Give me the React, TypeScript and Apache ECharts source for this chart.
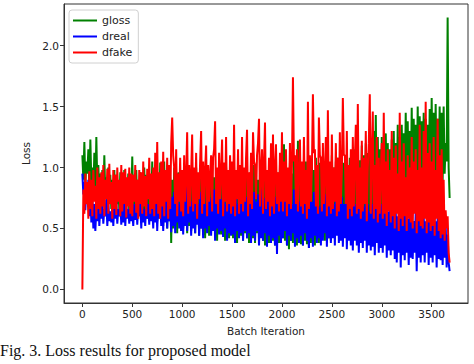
import React, { useEffect, useRef } from "react";
import * as echarts from "echarts";

// Batch iteration step between stored samples
const STEP = 10;

// Generator loss (every 10 iterations, 0..3680)
const gloss = [
  1.10, 0.90, 1.21, 0.85, 1.05, 0.95, 1.15, 0.82, 1.23, 0.88,
  1.00, 0.80, 1.12, 0.78, 1.25, 0.85, 1.02, 0.75, 0.95, 0.72,
  0.98, 0.70, 1.10, 0.76, 0.92, 0.68, 1.00, 0.74, 0.94, 0.66,
  0.90, 0.72, 0.98, 0.64, 0.94, 0.70, 0.88, 0.66, 0.96, 0.62,
  0.92, 0.68, 0.98, 0.64, 0.90, 0.72, 0.95, 0.62, 0.88, 0.70,
  1.09, 0.66, 0.94, 0.60, 0.98, 0.68, 0.90, 0.62, 0.96, 0.65,
  0.92, 0.60, 1.00, 0.66, 0.94, 0.58, 0.98, 0.64, 0.90, 0.60,
  1.05, 0.58, 0.96, 0.64, 1.02, 0.56, 0.94, 0.60, 1.04, 0.55,
  0.98, 0.52, 1.05, 0.60, 0.94, 0.50, 1.00, 0.56, 0.92, 0.38,
  0.90, 0.50, 1.00, 0.56, 0.92, 0.46, 0.96, 0.54, 0.88, 0.48,
  0.95, 0.50, 1.02, 0.55, 0.92, 0.46, 0.98, 0.52, 0.90, 0.48,
  0.98, 0.52, 0.90, 0.46, 1.00, 0.55, 0.94, 0.44, 0.96, 0.50,
  0.92, 0.45, 0.98, 0.42, 0.88, 0.50, 0.95, 0.44, 0.90, 0.48,
  1.00, 0.50, 0.92, 0.44, 0.98, 0.40, 0.94, 0.48, 0.90, 0.45,
  0.96, 0.46, 0.90, 0.40, 1.00, 0.50, 0.94, 0.42, 0.92, 0.48,
  0.88, 0.42, 1.00, 0.46, 0.92, 0.38, 0.96, 0.50, 0.90, 0.44,
  0.95, 0.40, 0.90, 0.46, 0.98, 0.42, 0.92, 0.38, 0.96, 0.44,
  0.92, 0.42, 1.02, 0.38, 0.94, 0.46, 0.90, 0.40, 0.98, 0.44,
  0.94, 0.40, 1.00, 0.36, 0.92, 0.44, 0.96, 0.38, 0.90, 0.42,
  1.05, 0.40, 0.94, 0.36, 1.00, 0.42, 0.96, 0.38, 1.02, 0.40,
  0.98, 0.42, 1.19, 0.40, 1.02, 0.36, 0.96, 0.33, 1.04, 0.40,
  0.95, 0.38, 1.10, 0.42, 1.00, 0.36, 1.22, 0.40, 0.98, 0.37,
  1.00, 0.36, 0.94, 0.40, 1.05, 0.37, 0.98, 0.34, 1.02, 0.38,
  1.05, 0.40, 0.98, 0.36, 1.08, 0.42, 1.00, 0.38, 1.04, 0.40,
  1.00, 0.44, 1.05, 0.40, 0.98, 0.46, 1.06, 0.42, 1.02, 0.40,
  1.10, 0.48, 1.00, 0.44, 1.05, 0.50, 1.08, 0.46, 1.02, 0.48,
  1.12, 0.50, 1.04, 0.55, 1.10, 0.48, 1.00, 0.52, 1.08, 0.55,
  1.08, 0.52, 1.15, 0.56, 1.05, 0.50, 1.12, 0.58, 1.06, 0.55,
  1.18, 0.58, 1.10, 0.55, 1.20, 0.60, 1.12, 0.56, 1.15, 0.62,
  1.20, 0.62, 1.30, 0.58, 1.43, 0.64, 1.25, 0.60, 1.15, 0.66,
  1.25, 0.65, 1.18, 0.70, 1.28, 0.62, 1.20, 0.68, 1.15, 0.72,
  1.23, 0.70, 1.30, 0.66, 1.20, 0.74, 1.35, 0.68, 1.25, 0.72,
  1.35, 0.75, 1.28, 0.80, 1.45, 0.72, 1.38, 0.78, 1.30, 0.82,
  1.49, 0.80, 1.40, 0.85, 1.35, 0.78, 1.50, 0.82, 1.42, 0.86,
  1.38, 0.82, 1.45, 0.78, 1.40, 0.88, 1.35, 0.80, 1.48, 0.85,
  1.57, 0.88, 1.45, 0.82, 1.52, 0.90, 1.40, 0.86, 1.50, 0.84,
  1.45, 0.88, 1.50, 0.95, 1.20, 1.05, 2.23, 1.00, 0.75,
];

// Discriminator loss on real samples
const dreal = [
  0.95, 0.78, 0.88, 0.65, 0.85, 0.72, 0.90, 0.60, 0.80, 0.55,
  0.75, 0.50, 0.70, 0.48, 0.66, 0.56, 0.74, 0.52, 0.68, 0.58,
  0.72, 0.54, 0.66, 0.60, 0.74, 0.52, 0.70, 0.56, 0.64, 0.55,
  0.70, 0.52, 0.68, 0.58, 0.73, 0.54, 0.66, 0.60, 0.72, 0.53,
  0.68, 0.55, 0.74, 0.52, 0.70, 0.58, 0.66, 0.54, 0.72, 0.56,
  0.64, 0.52, 0.70, 0.57, 0.75, 0.53, 0.68, 0.60, 0.72, 0.50,
  0.70, 0.55, 0.66, 0.52, 0.74, 0.58, 0.70, 0.53, 0.76, 0.56,
  0.68, 0.50, 0.74, 0.55, 0.80, 0.48, 0.70, 0.58, 0.76, 0.52,
  0.72, 0.48, 0.78, 0.55, 0.82, 0.50, 0.74, 0.56, 0.70, 0.47,
  0.76, 0.52, 0.80, 0.46, 0.72, 0.55, 0.78, 0.50, 0.70, 0.48,
  0.80, 0.45, 0.74, 0.52, 0.85, 0.48, 0.70, 0.55, 0.78, 0.44,
  0.72, 0.50, 0.82, 0.46, 0.76, 0.53, 0.70, 0.44, 0.80, 0.50,
  0.74, 0.42, 0.78, 0.50, 0.70, 0.46, 0.80, 0.52, 0.75, 0.44,
  0.70, 0.48, 0.82, 0.40, 0.76, 0.50, 0.72, 0.45, 0.80, 0.48,
  0.74, 0.43, 0.84, 0.50, 0.70, 0.40, 0.78, 0.46, 0.72, 0.44,
  0.80, 0.45, 0.76, 0.38, 0.82, 0.48, 0.70, 0.42, 0.78, 0.46,
  0.72, 0.40, 0.84, 0.48, 0.76, 0.42, 0.70, 0.46, 0.80, 0.38,
  0.74, 0.44, 0.80, 0.40, 0.72, 0.48, 0.78, 0.36, 0.70, 0.42,
  0.82, 0.40, 0.75, 0.46, 0.70, 0.35, 0.80, 0.44, 0.74, 0.38,
  0.78, 0.42, 0.72, 0.36, 0.76, 0.29, 0.70, 0.44, 0.78, 0.38,
  0.80, 0.42, 0.74, 0.48, 0.85, 0.36, 0.72, 0.44, 0.78, 0.40,
  0.70, 0.46, 0.82, 0.35, 0.76, 0.42, 0.80, 0.38, 0.72, 0.44,
  0.78, 0.36, 0.70, 0.46, 0.84, 0.40, 0.74, 0.34, 0.76, 0.42,
  0.72, 0.35, 0.80, 0.44, 0.70, 0.38, 0.75, 0.42, 0.68, 0.36,
  0.82, 0.40, 0.72, 0.46, 0.78, 0.35, 0.70, 0.42, 0.80, 0.38,
  0.74, 0.42, 0.70, 0.36, 0.78, 0.44, 0.80, 0.38, 0.72, 0.40,
  0.76, 0.35, 0.70, 0.42, 0.75, 0.33, 0.68, 0.40, 0.72, 0.36,
  0.66, 0.32, 0.74, 0.40, 0.70, 0.36, 0.72, 0.30, 0.66, 0.38,
  0.72, 0.34, 0.68, 0.40, 0.76, 0.30, 0.70, 0.36, 0.64, 0.32,
  0.70, 0.35, 0.74, 0.28, 0.66, 0.38, 0.72, 0.30, 0.68, 0.34,
  0.70, 0.30, 0.66, 0.36, 0.72, 0.26, 0.64, 0.32, 0.68, 0.28,
  0.62, 0.32, 0.70, 0.25, 0.65, 0.22, 0.60, 0.30, 0.66, 0.18,
  0.60, 0.28, 0.66, 0.24, 0.62, 0.30, 0.58, 0.20, 0.64, 0.26,
  0.60, 0.25, 0.56, 0.30, 0.64, 0.15, 0.58, 0.26, 0.62, 0.22,
  0.58, 0.28, 0.62, 0.22, 0.56, 0.30, 0.60, 0.20, 0.58, 0.26,
  0.54, 0.22, 0.62, 0.28, 0.56, 0.18, 0.60, 0.25, 0.52, 0.24,
  0.58, 0.20, 0.52, 0.26, 0.55, 0.18, 0.45, 0.22, 0.15,
];

// Discriminator loss on fake samples
const dfake = [
  0.00, 0.82, 0.62, 0.95, 0.70, 0.88, 0.58, 0.97, 0.66, 0.90,
  0.60, 0.98, 0.72, 0.85, 0.58, 1.00, 0.66, 0.92, 0.62, 0.96,
  0.68, 1.02, 0.60, 0.90, 0.74, 0.99, 0.62, 1.03, 0.70, 0.88,
  0.58, 0.98, 0.66, 0.94, 0.61, 1.00, 0.72, 0.90, 0.60, 1.02,
  0.64, 0.96, 0.70, 0.99, 0.59, 0.92, 0.68, 1.00, 0.62, 0.95,
  0.60, 0.94, 0.72, 1.02, 0.63, 0.90, 0.58, 0.98, 0.70, 0.96,
  0.62, 1.05, 0.68, 0.93, 0.60, 0.99, 0.74, 1.08, 0.62, 0.95,
  0.66, 1.00, 0.60, 1.12, 0.70, 1.21, 0.62, 0.96, 0.58, 1.05,
  0.68, 1.13, 0.60, 0.98, 0.72, 1.08, 0.58, 1.02, 0.66, 1.20,
  1.41, 1.10, 1.00, 0.70, 1.15, 0.60, 0.95, 0.72, 1.08, 0.64,
  0.98, 0.60, 1.10, 0.72, 0.92, 1.29, 0.62, 1.02, 0.68, 0.95,
  1.27, 0.64, 1.00, 0.70, 1.12, 0.58, 0.96, 0.74, 1.05, 1.30,
  0.62, 1.05, 0.70, 0.98, 1.18, 0.60, 1.02, 0.72, 0.94, 1.10,
  0.64, 1.08, 1.15, 1.38, 0.70, 1.00, 0.62, 1.12, 0.74, 0.96,
  1.23, 0.60, 1.04, 0.72, 1.25, 0.64, 0.98, 0.70, 1.10, 0.62,
  1.05, 0.68, 1.35, 0.60, 0.98, 0.74, 1.15, 0.62, 1.02, 0.70,
  1.25, 0.64, 1.00, 0.72, 1.08, 1.31, 0.60, 0.96, 0.70, 1.12,
  0.66, 1.29, 1.05, 1.02, 0.74, 1.10, 1.20, 1.40, 0.68, 0.98,
  1.15, 0.62, 1.04, 1.37, 0.66, 0.98, 0.72, 1.08, 0.60, 1.20,
  0.68, 1.27, 0.62, 1.00, 1.19, 0.70, 0.96, 0.64, 1.12, 0.72,
  1.29, 0.64, 1.05, 0.72, 1.15, 0.60, 1.00, 0.70, 1.20, 0.66,
  1.02, 1.74, 1.05, 1.10, 0.70, 1.15, 0.64, 0.98, 1.23, 0.68,
  1.05, 0.62, 1.25, 0.70, 0.98, 0.58, 1.54, 0.66, 1.10, 0.72,
  1.00, 1.60, 1.12, 1.15, 0.68, 1.02, 0.62, 1.41, 1.10, 1.08,
  0.64, 1.20, 0.70, 0.96, 1.25, 0.60, 1.47, 0.68, 1.05, 0.62,
  1.27, 0.66, 1.00, 0.72, 1.20, 0.60, 1.08, 0.64, 1.29, 0.70,
  0.98, 1.57, 1.10, 1.10, 0.70, 1.30, 0.58, 1.02, 0.66, 1.15,
  0.60, 1.25, 0.68, 1.05, 1.35, 0.62, 1.52, 0.66, 1.00, 0.58,
  1.22, 0.64, 1.08, 0.70, 1.30, 0.56, 1.00, 1.20, 1.60, 0.62,
  1.10, 1.46, 0.58, 1.02, 0.66, 1.25, 0.55, 1.08, 0.62, 0.95,
  1.20, 0.58, 1.45, 0.62, 1.05, 0.52, 1.15, 0.64, 0.98, 0.55,
  1.30, 0.60, 1.08, 0.50, 1.18, 0.62, 0.95, 0.48, 1.45, 0.58,
  1.05, 0.52, 1.20, 0.60, 0.92, 0.48, 1.10, 0.58, 1.00, 0.55,
  1.25, 0.50, 1.05, 0.62, 1.15, 0.46, 0.98, 0.56, 1.35, 0.52,
  1.00, 0.50, 1.30, 0.58, 1.54, 0.46, 1.12, 0.55, 1.20, 0.48,
  1.05, 0.52, 1.25, 0.44, 0.98, 0.58, 1.40, 0.48, 1.10, 0.42,
  1.15, 0.45, 0.90, 0.40, 0.65, 0.50, 0.60, 0.30, 0.22,
];

const seriesNames = ["gloss", "dreal", "dfake"];
const seriesValues = [gloss, dreal, dfake];
const seriesColors = ["#008000", "#0000ff", "#ff0000"];

const xTicks = [0, 500, 1000, 1500, 2000, 2500, 3000, 3500];
const yTicks = [0.0, 0.5, 1.0, 1.5, 2.0];

const xTitle = "Batch Iteration";
const yTitle = "Loss";
const caption = "Fig. 3. Loss results for proposed model";

export default function App() {
  const ref = useRef<HTMLDivElement>(null);

  useEffect(() => {
    if (!ref.current) return;
    const chart = echarts.init(ref.current, null, { renderer: "svg" });
    const tickFont = {
      color: "#222",
      fontFamily: "DejaVu Sans",
      fontSize: 10.5,
    };
    chart.setOption({
      animation: false,
      backgroundColor: "#ffffff",
      grid: {
        left: 64,
        top: 4,
        width: 404,
        height: 299,
        show: true,
        borderColor: "#333",
        borderWidth: 1,
        backgroundColor: "transparent",
      },
      legend: {
        orient: "vertical",
        left: 69,
        top: 10,
        data: seriesNames.map((n) => ({ name: n, icon: "rect" })),
        itemWidth: 24,
        itemHeight: 2,
        itemGap: 5,
        padding: [5, 6, 5, 4],
        backgroundColor: "rgba(255,255,255,0.85)",
        borderColor: "#d0d0d0",
        borderWidth: 1,
        borderRadius: 3,
        textStyle: { ...tickFont, fontSize: 11 },
      },
      xAxis: {
        type: "value",
        min: -184,
        max: 3864,
        name: xTitle,
        nameLocation: "middle",
        nameGap: 22,
        nameTextStyle: tickFont,
        splitLine: { show: false },
        axisLine: { show: true, onZero: false, lineStyle: { color: "#333" } },
        axisTick: {
          show: true,
          customValues: xTicks,
          length: 4,
          lineStyle: { color: "#333" },
        },
        axisLabel: {
          ...tickFont,
          customValues: xTicks,
          margin: 5,
          formatter: (v: number) => String(v),
        },
      },
      yAxis: {
        type: "value",
        min: -0.1115,
        max: 2.3415,
        name: yTitle,
        nameLocation: "middle",
        nameGap: 27,
        nameTextStyle: tickFont,
        splitLine: { show: false },
        axisLine: { show: true, onZero: false, lineStyle: { color: "#333" } },
        axisTick: {
          show: true,
          customValues: yTicks,
          length: 4,
          lineStyle: { color: "#333" },
        },
        axisLabel: {
          ...tickFont,
          customValues: yTicks,
          margin: 5,
          formatter: (v: number) => v.toFixed(1),
        },
      },
      series: seriesNames.map((name, k) => ({
        name,
        type: "line",
        data: seriesValues[k].map((v, i) => [i * STEP, v]),
        symbol: "none",
        showSymbol: false,
        silent: true,
        color: seriesColors[k],
        lineStyle: { color: seriesColors[k], width: 2 },
        z: 2 + k,
      })),
      graphic: [
        {
          type: "text",
          left: 0,
          top: 342,
          style: {
            text: caption,
            font: '16px "Liberation Serif"',
            fill: "#111",
          },
        },
      ],
    });
    return () => chart.dispose();
  }, []);

  return (
    <div
      ref={ref}
      style={{ position: "absolute", left: 0, top: 0, width: 474, height: 364 }}
    />
  );
}
